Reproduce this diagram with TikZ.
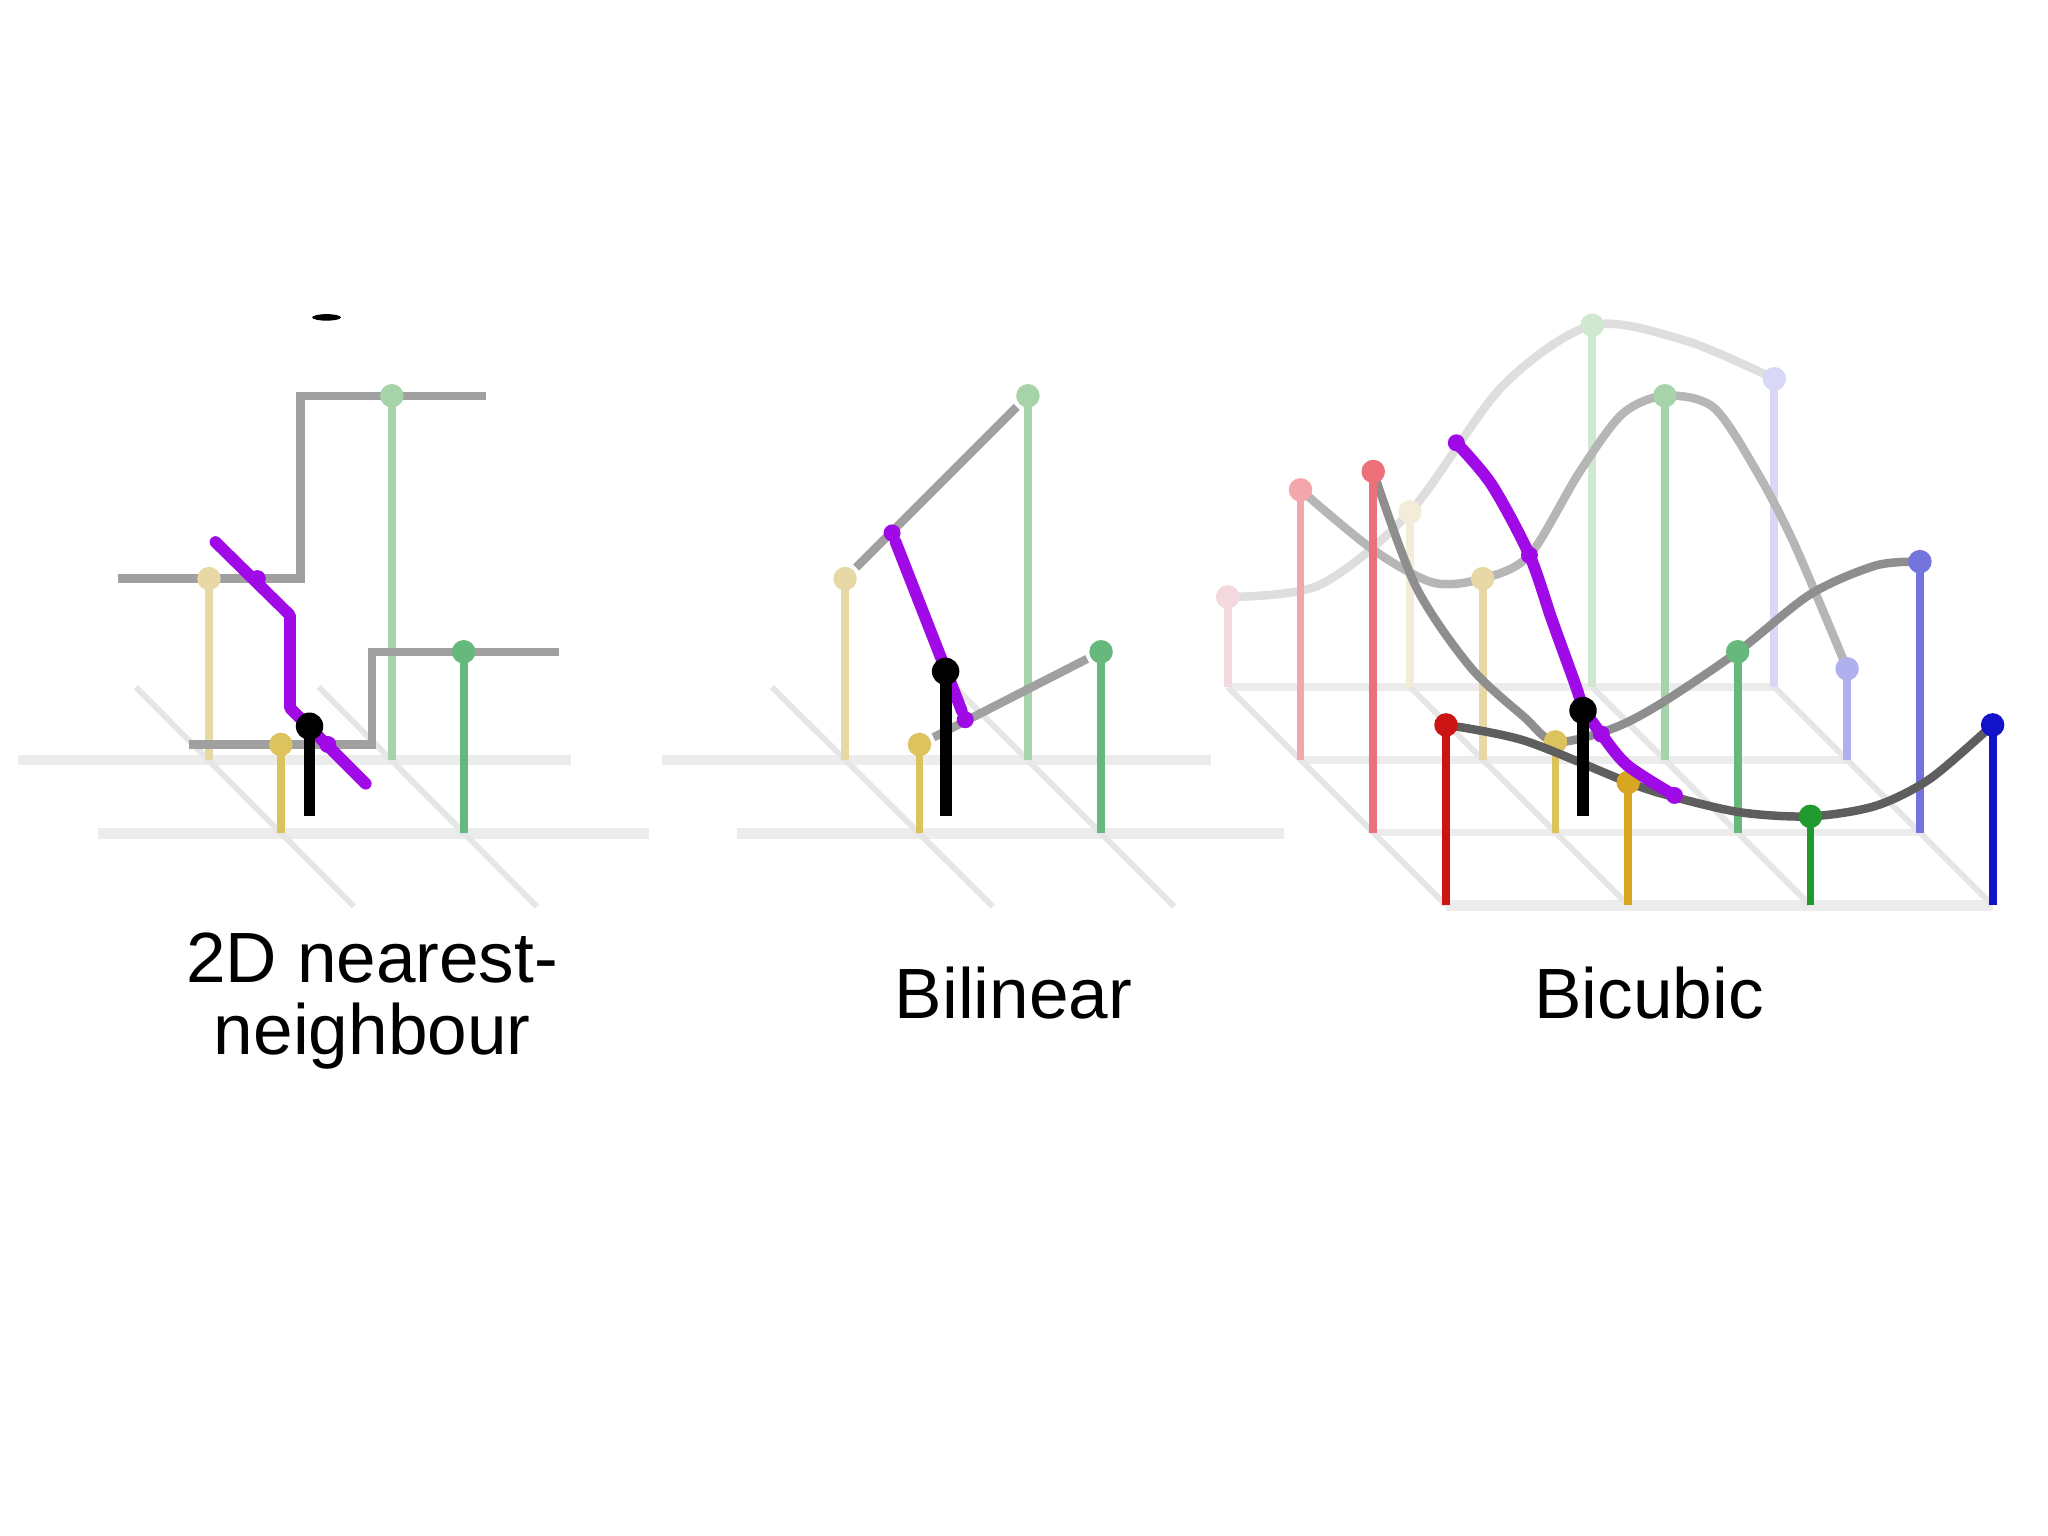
\documentclass[tikz,border=0pt]{standalone}
\usepackage{fontspec}
\setmainfont{Liberation Sans}
\definecolor{redA}{HTML}{CC1414}
\definecolor{redB}{HTML}{EC7078}
\definecolor{redC}{HTML}{F3A6AC}
\definecolor{redD}{HTML}{F3D8DE}
\definecolor{yelA}{HTML}{D9A622}
\definecolor{yelB}{HTML}{DCC35E}
\definecolor{yelC}{HTML}{E8D8A6}
\definecolor{yelD}{HTML}{F2ECD8}
\definecolor{grnA}{HTML}{1F9A2E}
\definecolor{grnB}{HTML}{66B87C}
\definecolor{grnC}{HTML}{A6D3AA}
\definecolor{grnD}{HTML}{D0E7D0}
\definecolor{bluA}{HTML}{1212C8}
\definecolor{bluB}{HTML}{7474DE}
\definecolor{bluC}{HTML}{B0B0EE}
\definecolor{bluD}{HTML}{D8D8F6}
\definecolor{interp}{HTML}{A00AE6}
\definecolor{floorgray}{HTML}{ECECEC}
\definecolor{diaggray}{HTML}{E6E6E6}
\definecolor{stepA}{HTML}{5E5E5E}
\definecolor{stepB}{HTML}{8E8E8E}
\definecolor{stepC}{HTML}{B6B6B6}
\definecolor{stepD}{HTML}{DEDEDE}
\definecolor{stepN}{HTML}{A0A0A0}
\begin{document}
\begin{tikzpicture}[x=0.1mm, y=-0.1mm,
        floorline/.style={line width=0.8mm, draw=floorgray},
        gridline/.style={line width=0.6mm, draw=floorgray},
        floordiag/.style={line width=0.45mm, draw=diaggray},
        stem/.style={line width=0.6mm},
        ball/.style={circle, inner sep=0pt, minimum size=1.8mm},
        stepline/.style={line width=0.65mm},
        interpline/.style={line width=0.9mm, draw=interp, line join=round, line cap=round},
        knot/.style={circle, fill=interp, inner sep=0pt, minimum size=1.3mm},
        pickstem/.style={line width=0.9mm, draw=black},
        pick/.style={circle, fill=black, inner sep=0pt, minimum size=2.1mm},
        lbl/.style={font=\fontsize{15.5}{15.65}\selectfont, inner sep=0pt}]
        \useasboundingbox[fill=white] (0,0) rectangle (1568,1176);
        \fill[black] (250,243) ellipse [x radius=1.1mm, y radius=0.25mm];

        % nearest neighbour
        \draw[floorline] (14,582) -- (437,582);
        \draw[floorline] (75,638) -- (497,638);
        \draw[floordiag] (104,526) -- (271,694);
        \draw[floordiag] (244,526) -- (411,694);
        \draw[stepline, stepN] (90,443) -- (230,443) -- (230,303) -- (372,303);
        \draw[stem, yelC] (160,582) -- (160,443) node[ball, fill=yelC] (nnBY) {};
        \draw[stem, grnC] (300,582) -- (300,303) node[ball, fill=grnC] (nnBG) {};
        \draw[stepline, stepN] (145,570) -- (285,570) -- (285,499) -- (428,499);
        \draw[stem, yelB] (215,638) -- (215,570) node[ball, fill=yelB] (nnFY) {};
        \draw[stem, grnB] (355,638) -- (355,499) node[ball, fill=grnB] (nnFG) {};
        \draw[interpline] (165,415) -- (222,471) -- (222,542) -- (280,600);
        \node[knot] (nnP1) at (197,443) {};
        \node[knot] (nnP2) at (251,570) {};
        \draw[pickstem] (237,625) -- (237,556) node[pick] (nnK) {};

        % bilinear
        \draw[floorline] (507,582) -- (927,582);
        \draw[floorline] (564,638) -- (983,638);
        \draw[floordiag] (591,526) -- (760,694);
        \draw[floordiag] (731,526) -- (899,694);
        \draw[stem, yelC] (647,582) -- (647,443) node[ball, fill=yelC] (blBY) {};
        \draw[stem, grnC] (787,582) -- (787,303) node[ball, fill=grnC] (blBG) {};
        \draw[stepline, stepN] (blBY) -- (blBG);
        \draw[stem, yelB] (704,638) -- (704,570) node[ball, fill=yelB] (blFY) {};
        \draw[stem, grnB] (843,638) -- (843,499) node[ball, fill=grnB] (blFG) {};
        \draw[stepline, stepN] (blFY) -- (blFG);
        \node[knot] (blP1) at (683,408) {};
        \node[knot] (blP2) at (739,551) {};
        \draw[interpline] (blP1) -- (blP2);
        \draw[pickstem] (724,625) -- (724,514) node[pick] (blK) {};

        % bicubic
        \draw[gridline] (940,526) -- (1358.5,526);
        \draw[gridline] (995.7,581.7) -- (1414.2,581.7);
        \draw[gridline] (1051.4,637.4) -- (1469.9,637.4);
        \draw[floorline] (1107.1,693.1) -- (1525.6,693.1);
        \draw[floordiag] (940,526) -- (1107.1,693.1);
        \draw[floordiag] (1079.5,526) -- (1246.6,693.1);
        \draw[floordiag] (1219,526) -- (1386.1,693.1);
        \draw[floordiag] (1358.5,526) -- (1525.6,693.1);

        \draw[stepline, stepD] plot[smooth] coordinates {(940,457) (1010,448) (1079.5,392) (1150,296) (1219,249) (1291,261) (1358.5,290)};
        \draw[stem, redD] (940,526) -- (940,457) node[ball, fill=redD] (bcR0) {};
        \draw[stem, yelD] (1079.5,526) -- (1079.5,392) node[ball, fill=yelD] (bcY0) {};
        \draw[stem, grnD] (1219,526) -- (1219,249) node[ball, fill=grnD] (bcG0) {};
        \draw[stem, bluD] (1358.5,526) -- (1358.5,290) node[ball, fill=bluD] (bcB0) {};

        \draw[stepline, stepC] plot[smooth] coordinates {(995.7,375) (1050,420) (1097,446) (1135.2,443) (1171,425) (1209,362) (1242,317) (1274.7,303) (1312,312) (1345,361) (1374,417) (1414.2,512)};
        \draw[stem, redC] (995.7,581.7) -- (995.7,375) node[ball, fill=redC] (bcR1) {};
        \draw[stem, yelC] (1135.2,581.7) -- (1135.2,443) node[ball, fill=yelC] (bcY1) {};
        \draw[stem, grnC] (1274.7,581.7) -- (1274.7,303) node[ball, fill=grnC] (bcG1) {};
        \draw[stem, bluC] (1414.2,581.7) -- (1414.2,512) node[ball, fill=bluC] (bcB1) {};

        \draw[stepline, stepB] plot[smooth] coordinates {(1051.4,361) (1084,449) (1126,511) (1167,549) (1190.9,568) (1234,558) (1271,539) (1330.4,499) (1386,455) (1436,433) (1469.9,430)};
        \draw[stem, redB] (1051.4,637.4) -- (1051.4,361) node[ball, fill=redB] (bcR2) {};
        \draw[stem, yelB] (1190.9,637.4) -- (1190.9,568) node[ball, fill=yelB] (bcY2) {};
        \draw[stem, grnB] (1330.4,637.4) -- (1330.4,499) node[ball, fill=grnB] (bcG2) {};
        \draw[stem, bluB] (1469.9,637.4) -- (1469.9,430) node[ball, fill=bluB] (bcB2) {};

        \draw[stepline, stepA] plot[smooth] coordinates {(1107.1,555) (1167,567) (1246.6,599) (1281,610) (1333,622) (1386.1,625) (1436,617) (1478,596) (1525.6,555)};
        \draw[stem, redA] (1107.1,693.1) -- (1107.1,555) node[ball, fill=redA] (bcR3) {};
        \draw[stem, yelA] (1246.6,693.1) -- (1246.6,599) node[ball, fill=yelA] (bcY3) {};
        \draw[stem, grnA] (1386.1,693.1) -- (1386.1,625) node[ball, fill=grnA] (bcG3) {};
        \draw[stem, bluA] (1525.6,693.1) -- (1525.6,555) node[ball, fill=bluA] (bcB3) {};

        \draw[interpline] plot[smooth] coordinates {(1115,339) (1142,371) (1171,425) (1188,474) (1205,521) (1213,543) (1226,562) (1246,586) (1282,609)};
        \node[knot] (bcP0) at (1115,339) {};
        \node[knot] (bcP1) at (1171,425) {};
        \node[knot] (bcP2) at (1226,562) {};
        \node[knot] (bcP3) at (1282,609) {};
        \draw[pickstem] (1212,625) -- (1212,544) node[pick] (bcK) {};

        % labels
        \node[lbl, align=center, anchor=base] (lblNN) at (285,807) {2D nearest-\\neighbour};
        \node[lbl, anchor=base] (lblBL) at (776,779.5) {Bilinear};
        \node[lbl, anchor=base] (lblBC) at (1262.5,779.5) {Bicubic};
    \end{tikzpicture}
\end{document}
